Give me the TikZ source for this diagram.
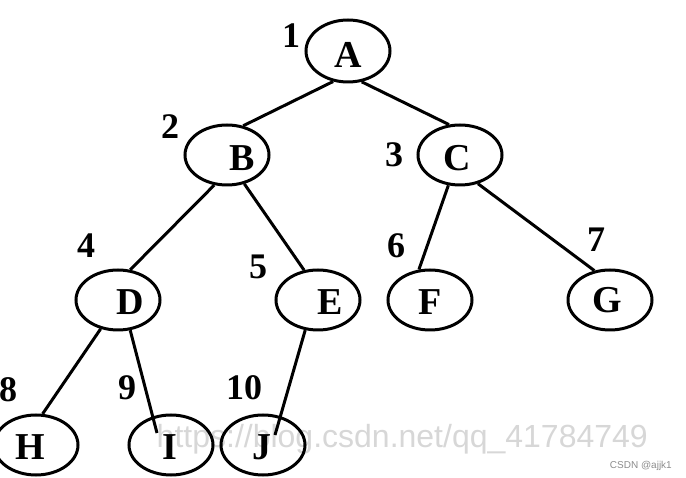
\documentclass[tikz,border=0pt]{standalone}
\usepackage{fontspec}
\setmainfont{Liberation Serif}
\newfontfamily\wmfont{Liberation Sans}
\usetikzlibrary{shapes.geometric}
\definecolor{wmgray}{RGB}{215,215,215}
\definecolor{tag}{RGB}{140,140,140}
\begin{document}
\begin{tikzpicture}[x=1pt,y=-1pt,
  vtx/.style={draw, ellipse, line width=3pt, minimum width=84pt, minimum height=60pt, inner sep=0pt},
  ltr/.style={font=\fontsize{38}{38}\selectfont\bfseries, inner sep=0pt},
  num/.style={font=\fontsize{36}{36}\selectfont\bfseries, inner sep=0pt},
  edge/.style={line width=3pt}]
\useasboundingbox (0,0) rectangle (686,478);
% watermark
\node[font=\wmfont\fontsize{32}{32}\selectfont, text=wmgray, anchor=base east, inner sep=0pt] (wm) at (648,448) {https://blog.csdn.net/qq\_41784749};
\node[font=\wmfont\fontsize{10}{10}\selectfont, text=tag, anchor=base east, inner sep=0pt] (csdn) at (672,468) {CSDN @ajjk1};
% ellipses
\node[vtx, minimum height=62pt] (A) at (348,51) {};
\node[vtx] (B) at (227,155) {};
\node[vtx] (C) at (460,155) {};
\node[vtx] (D) at (118,300) {};
\node[vtx] (E) at (318,300) {};
\node[vtx] (F) at (430,300) {};
\node[vtx] (G) at (610,300) {};
\node[vtx] (H) at (36,445) {};
\node[vtx] (I) at (171,445) {};
\node[vtx] (J) at (263,445) {};
% letters
\node[ltr] (tA) at (348,55) {A};
\node[ltr] (tB) at (242,158) {B};
\node[ltr] (tC) at (457,158) {C};
\node[ltr] (tD) at (130,302) {D};
\node[ltr] (tE) at (330,302) {E};
\node[ltr] (tF) at (430,302) {F};
\node[ltr] (tG) at (607,300) {G};
\node[ltr] (tH) at (30,447) {H};
\node[ltr] (tI) at (170,447) {I};
\node[ltr] (tJ) at (262,447) {J};
% numbers
\node[num] (n1) at (291,36) {1};
\node[num] (n2) at (170,127) {2};
\node[num] (n3) at (394,155) {3};
\node[num] (n4) at (86,246) {4};
\node[num] (n5) at (258,267) {5};
\node[num] (n6) at (396,246) {6};
\node[num] (n7) at (596,240) {7};
\node[num] (n8) at (8,390) {8};
\node[num] (n9) at (127,388) {9};
\node[num] (n10) at (244,388) {10};
% edges
\draw[edge] (A.244) -- (B.61);
\draw[edge] (A.294) -- (C.110);
\draw[edge] (B.247) -- (D.68);
\draw[edge] (B.301) -- (E.115);
\draw[edge] (C.249) -- (F.110);
\draw[edge] (C.302) -- (G.118);
\draw[edge] (D.239) -- (H.78);
\draw[edge] (D.292) -- ([shift={(-14,-12)}]I.center);
\draw[edge] (E.247) -- ([shift={(12,-10)}]J.center);
\end{tikzpicture}
\end{document}
